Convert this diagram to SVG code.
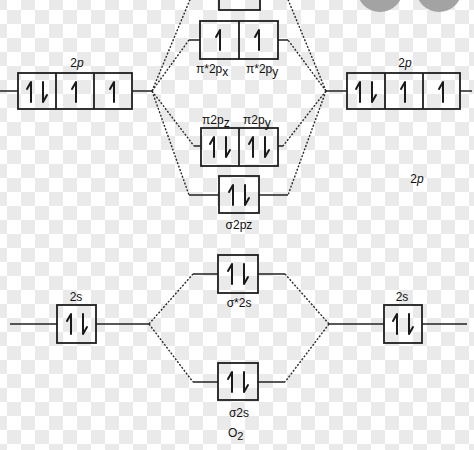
<svg xmlns="http://www.w3.org/2000/svg" width="474" height="450" viewBox="0 0 474 450">
<defs>
<g id="up"><path d="M0,10 V-10 L-4,-3" fill="none" stroke="#1a1a1a" stroke-width="2" stroke-linejoin="round" stroke-linecap="round"/></g>
<g id="dn"><path d="M0,-10 V10 L4,3" fill="none" stroke="#1a1a1a" stroke-width="2" stroke-linejoin="round" stroke-linecap="round"/></g>
</defs>
<style>
.ck{stroke:#eaeaea;stroke-width:14;stroke-dasharray:14 14}
.box{fill:none;stroke:#1e1e1e;stroke-width:1.8}
.ln{fill:none;stroke:#222;stroke-width:1.6}
.dot{fill:none;stroke:#2a2a2a;stroke-width:1.4;stroke-dasharray:2 1.6}
text{font-family:"Liberation Sans","DejaVu Sans",sans-serif;fill:#111;font-size:12px}
.lbl{text-anchor:middle}
</style>
<rect x="0" y="0" width="474" height="450" fill="#ffffff"/>
<g id="background">
<line class="ck" x1="-7" y1="3" x2="480" y2="3"/>
<line class="ck" x1="-21" y1="17" x2="480" y2="17"/>
<line class="ck" x1="-7" y1="31" x2="480" y2="31"/>
<line class="ck" x1="-21" y1="45" x2="480" y2="45"/>
<line class="ck" x1="-7" y1="59" x2="480" y2="59"/>
<line class="ck" x1="-21" y1="73" x2="480" y2="73"/>
<line class="ck" x1="-7" y1="87" x2="480" y2="87"/>
<line class="ck" x1="-21" y1="101" x2="480" y2="101"/>
<line class="ck" x1="-7" y1="115" x2="480" y2="115"/>
<line class="ck" x1="-21" y1="129" x2="480" y2="129"/>
<line class="ck" x1="-7" y1="143" x2="480" y2="143"/>
<line class="ck" x1="-21" y1="157" x2="480" y2="157"/>
<line class="ck" x1="-7" y1="171" x2="480" y2="171"/>
<line class="ck" x1="-21" y1="185" x2="480" y2="185"/>
<line class="ck" x1="-7" y1="199" x2="480" y2="199"/>
<line class="ck" x1="-21" y1="213" x2="480" y2="213"/>
<line class="ck" x1="-7" y1="227" x2="480" y2="227"/>
<line class="ck" x1="-21" y1="241" x2="480" y2="241"/>
<line class="ck" x1="-7" y1="255" x2="480" y2="255"/>
<line class="ck" x1="-21" y1="269" x2="480" y2="269"/>
<line class="ck" x1="-7" y1="283" x2="480" y2="283"/>
<line class="ck" x1="-21" y1="297" x2="480" y2="297"/>
<line class="ck" x1="-7" y1="311" x2="480" y2="311"/>
<line class="ck" x1="-21" y1="325" x2="480" y2="325"/>
<line class="ck" x1="-7" y1="339" x2="480" y2="339"/>
<line class="ck" x1="-21" y1="353" x2="480" y2="353"/>
<line class="ck" x1="-7" y1="367" x2="480" y2="367"/>
<line class="ck" x1="-21" y1="381" x2="480" y2="381"/>
<line class="ck" x1="-7" y1="395" x2="480" y2="395"/>
<line class="ck" x1="-21" y1="409" x2="480" y2="409"/>
<line class="ck" x1="-7" y1="423" x2="480" y2="423"/>
<line class="ck" x1="-21" y1="437" x2="480" y2="437"/>
<line class="ck" x1="-7" y1="451" x2="480" y2="451"/>
</g>
<circle cx="380" cy="-11" r="23" fill="#a3a3a3"/>
<circle cx="439" cy="-11" r="23" fill="#a3a3a3"/>

<g id="connectors">
<path class="ln" d="M0,91 H18 M132,91 H152"/>
<path class="ln" d="M326,91 H347 M460,91 H472"/>
<path class="ln" d="M189,40 H200 M278,40 H288"/>
<path class="ln" d="M194,146 H201 M278,146 H283"/>
<path class="ln" d="M189,195 H219 M259,195 H288"/>
<path class="ln" d="M10,324 H57 M96,324 H149"/>
<path class="ln" d="M329,324 H384 M422,324 H467"/>
<path class="ln" d="M193,274 H218 M258,274 H285"/>
<path class="ln" d="M193,382 H218 M258,382 H285"/>
<path class="dot" d="M152,91 L194,-10"/>
<path class="dot" d="M152,91 L189,40"/>
<path class="dot" d="M152,91 L194,146"/>
<path class="dot" d="M152,91 L189,195"/>
<path class="dot" d="M326,91 L284,-10"/>
<path class="dot" d="M326,91 L288,40"/>
<path class="dot" d="M326,91 L283,146"/>
<path class="dot" d="M326,91 L288,195"/>
<path class="dot" d="M149,324 L193,274"/>
<path class="dot" d="M149,324 L193,382"/>
<path class="dot" d="M329,324 L285,274"/>
<path class="dot" d="M329,324 L285,382"/>
</g>

<g id="left2p">
<rect class="box" x="18" y="73" width="114" height="36"/>
<path class="box" d="M56,73 V109 M94,73 V109"/>
<use href="#up" x="31" y="92"/><use href="#dn" x="43" y="92"/>
<use href="#up" x="76" y="92"/>
<use href="#up" x="114" y="92"/>
<text class="lbl" x="77" y="67">2<tspan font-style="italic">p</tspan></text>
</g>

<g id="right2p">
<rect class="box" x="347" y="73" width="113" height="36"/>
<path class="box" d="M385,73 V109 M423,73 V109"/>
<use href="#up" x="360" y="92"/><use href="#dn" x="372" y="92"/>
<use href="#up" x="405" y="92"/>
<use href="#up" x="443" y="92"/>
<text class="lbl" x="405" y="67">2<tspan font-style="italic">p</tspan></text>
</g>

<text id="label2p" class="lbl" x="417" y="183">2<tspan font-style="italic">p</tspan></text>

<g id="sigmaStar2pz">
<rect class="box" x="219" y="-30" width="41" height="40"/>
</g>

<g id="piStar2p">
<rect class="box" x="200" y="21" width="78" height="38"/>
<path class="box" d="M239,21 V59"/>
<use href="#up" x="220" y="40"/>
<use href="#up" x="259" y="40"/>
<text x="196" y="73" font-size="11">π*2p<tspan dy="3">x</tspan></text>
<text x="246" y="73" font-size="11">π*2p<tspan dy="3">y</tspan></text>
</g>

<g id="pi2p">
<rect class="box" x="201" y="128" width="77" height="38"/>
<path class="box" d="M239,128 V166"/>
<use href="#up" x="214" y="147"/><use href="#dn" x="226" y="147"/>
<use href="#up" x="253" y="147"/><use href="#dn" x="265" y="147"/>
<text x="202" y="124" font-size="11">π2p<tspan dy="3">z</tspan></text>
<text x="243" y="124" font-size="11">π2p<tspan dy="3">y</tspan></text>
</g>

<g id="sigma2pz">
<rect class="box" x="219" y="176" width="40" height="37"/>
<use href="#up" x="233" y="195"/><use href="#dn" x="245" y="195"/>
<text class="lbl" x="239" y="229" font-size="11">σ2pz</text>
</g>

<g id="left2s">
<rect class="box" x="57" y="305" width="39" height="38"/>
<use href="#up" x="71" y="324"/><use href="#dn" x="83" y="324"/>
<text class="lbl" x="76" y="301">2s</text>
</g>

<g id="right2s">
<rect class="box" x="384" y="305" width="38" height="38"/>
<use href="#up" x="397" y="324"/><use href="#dn" x="409" y="324"/>
<text class="lbl" x="402" y="301">2s</text>
</g>

<g id="sigmaStar2s">
<rect class="box" x="218" y="255" width="40" height="38"/>
<use href="#up" x="232" y="274"/><use href="#dn" x="244" y="274"/>
<text class="lbl" x="239" y="307" font-size="11">σ*2s</text>
</g>

<g id="sigma2s">
<rect class="box" x="218" y="363" width="40" height="37"/>
<use href="#up" x="232" y="382"/><use href="#dn" x="244" y="382"/>
<text class="lbl" x="239" y="417" font-size="11">σ2s</text>
</g>

<text id="title" x="228" y="437" font-size="15">O<tspan dy="3" font-size="11">2</tspan></text>
</svg>
